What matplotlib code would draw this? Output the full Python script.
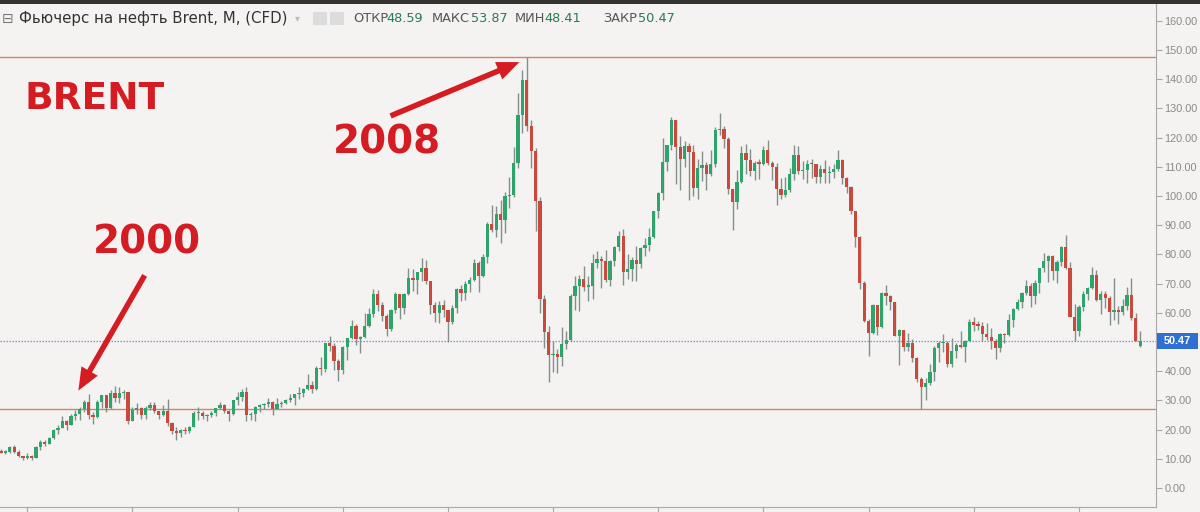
import matplotlib
matplotlib.use("Agg")
import matplotlib.pyplot as plt
from matplotlib.patches import Rectangle, FancyArrowPatch
from matplotlib.transforms import blended_transform_factory

# ---------------- data: monthly Brent candles, Jul 1998 .. Mar 2020 ----------------
first_month = "1998-07"
opens = [
    12.6, 12.1, 12.2, 14.0, 12.4, 11.0,                                          # 1998 (Jul-Dec)
    10.2, 11.1, 10.4, 13.9, 15.8, 15.0, 17.0, 19.9, 20.5, 22.9, 21.7, 24.7,      # 1999
    25.3, 27.2, 29.5, 25.0, 24.2, 29.4, 31.8, 27.3, 32.7, 30.8, 32.5, 32.9,      # 2000
    23.0, 26.6, 27.5, 24.9, 27.4, 28.3, 26.2, 25.0, 26.3, 22.2, 19.6, 18.8,      # 2001
    19.9, 19.6, 20.9, 25.6, 25.7, 24.6, 24.9, 25.8, 27.3, 28.5, 26.2, 25.2,      # 2002
    30.0, 31.3, 32.8, 25.0, 25.3, 27.6, 28.3, 28.7, 29.6, 27.1, 28.8, 29.2,      # 2003
    30.2, 30.9, 32.3, 32.6, 33.8, 35.2, 34.0, 41.2, 40.6, 49.6, 48.5, 43.5,      # 2004
    40.5, 48.2, 51.5, 55.4, 51.0, 51.8, 55.6, 59.5, 66.5, 62.8, 58.9, 54.3,      # 2005
    61.0, 66.3, 61.5, 66.3, 72.0, 71.4, 73.9, 75.2, 71.0, 62.5, 59.8, 62.8,      # 2006
    60.9, 57.0, 61.8, 68.1, 66.9, 69.9, 71.4, 77.1, 72.7, 79.2, 90.5, 88.3,      # 2007
    93.9, 91.8, 100.1, 100.3, 111.4, 127.8, 139.8, 124.1, 115.5, 98.2, 64.6, 53.5,  # 2008
    45.6, 45.9, 44.8, 49.2, 50.6, 65.9, 69.3, 71.7, 69.0, 69.1, 77.0, 78.5,      # 2009
    77.9, 71.2, 77.6, 82.7, 86.2, 74.0, 75.0, 78.0, 76.7, 82.3, 83.2, 85.9,      # 2010
    94.8, 101.0, 111.8, 117.4, 125.9, 116.7, 112.5, 117.0, 114.9, 102.8, 109.6, 110.5,  # 2011
    107.4, 111.0, 122.7, 122.9, 119.5, 102.4, 97.8, 104.9, 114.6, 112.4, 108.7, 111.2,  # 2012
    111.1, 115.6, 111.4, 110.0, 102.4, 100.4, 102.2, 107.7, 114.0, 108.4, 108.8, 110.9,  # 2013
    110.8, 106.4, 109.1, 107.8, 108.1, 109.4, 112.4, 106.0, 103.2, 94.7, 85.9, 70.2,    # 2014
    57.3, 53.0, 62.6, 55.1, 66.8, 65.6, 63.6, 52.2, 54.2, 48.4, 49.6, 44.6,      # 2015
    37.3, 34.7, 36.0, 39.6, 48.1, 49.7, 49.7, 42.5, 47.0, 49.1, 48.3, 50.5,      # 2016
    56.8, 55.7, 55.6, 52.8, 51.7, 50.3, 47.9, 52.7, 52.4, 57.5, 61.4, 63.6,      # 2017
    66.9, 69.1, 65.8, 70.3, 75.2, 77.6, 79.4, 74.3, 77.4, 82.7, 75.5, 58.7,      # 2018
    53.8, 61.9, 66.3, 68.4, 72.8, 64.5, 66.6, 65.2, 60.4, 60.8, 60.2, 62.4,      # 2019
    66.0, 58.2, 48.59,                                                           # 2020
]
highs = [
    13.3, 12.9, 14.4, 14.6, 13.0, 11.1,
    12.0, 11.4, 14.3, 16.5, 16.5, 17.4, 20.3, 21.4, 24.6, 23.3, 25.3, 26.6,
    27.8, 30.2, 32.1, 26.0, 30.2, 32.0, 31.9, 33.4, 35.0, 34.6, 33.5, 33.0,
    27.8, 29.0, 27.6, 28.0, 29.5, 29.3, 26.5, 28.3, 30.4, 22.7, 21.0, 20.1,
    21.0, 21.1, 26.2, 27.7, 26.3, 25.2, 26.3, 27.4, 29.3, 28.7, 26.6, 30.3,
    32.8, 34.0, 34.6, 26.0, 28.0, 28.6, 29.2, 30.9, 29.9, 30.9, 29.7, 30.6,
    32.2, 32.3, 34.7, 34.2, 39.0, 36.8, 41.8, 45.0, 49.6, 52.0, 49.8, 44.3,
    48.5, 51.5, 57.6, 56.2, 52.0, 59.9, 61.5, 68.3, 67.8, 63.8, 59.6, 61.2,
    67.0, 66.5, 66.8, 75.2, 74.9, 74.0, 78.6, 78.0, 71.0, 63.6, 63.9, 64.5,
    61.0, 62.5, 68.4, 69.5, 71.0, 72.1, 78.4, 77.6, 80.0, 91.0, 97.0, 96.5,
    98.5, 101.3, 106.5, 116.8, 135.1, 143.0, 147.5, 126.0, 116.5, 99.7, 66.2, 55.5,
    50.4, 47.5, 55.2, 53.6, 66.3, 72.5, 73.0, 76.0, 72.5, 80.0, 81.0, 79.6,
    81.4, 78.2, 82.8, 88.0, 88.8, 80.0, 79.0, 83.0, 82.5, 85.7, 89.0, 95.0,
    101.5, 119.8, 117.6, 127.0, 126.0, 120.5, 119.0, 118.0, 117.5, 112.8, 115.3, 111.5,
    115.8, 123.7, 128.4, 124.1, 120.2, 102.4, 109.0, 117.0, 117.9, 116.0, 112.0, 112.6,
    117.0, 119.2, 112.0, 111.2, 106.0, 106.5, 109.5, 117.3, 117.0, 112.0, 112.3, 112.6,
    110.8, 110.5, 112.4, 110.2, 111.0, 115.7, 112.6, 106.6, 103.4, 94.8, 86.3, 70.8,
    58.0, 63.0, 62.6, 67.0, 69.6, 66.0, 63.6, 54.3, 54.2, 53.0, 51.0, 44.8,
    38.0, 37.5, 42.5, 48.5, 50.5, 52.9, 50.5, 51.2, 49.8, 53.7, 50.6, 57.9,
    58.4, 57.2, 56.7, 56.5, 54.7, 50.9, 53.0, 53.2, 59.5, 61.5, 64.7, 67.0,
    71.3, 70.3, 71.3, 75.5, 80.5, 79.9, 79.8, 78.2, 82.9, 86.7, 77.3, 63.1,
    62.5, 67.5, 69.0, 75.6, 74.5, 67.5, 67.5, 65.9, 71.9, 62.3, 64.6, 68.9,
    71.8, 59.9, 53.87,
]
lows = [
    11.9, 11.6, 12.0, 12.0, 10.6, 9.5,
    10.0, 9.6, 10.3, 13.0, 14.3, 14.9, 16.9, 18.6, 20.4, 19.9, 21.5, 23.3,
    23.4, 26.0, 23.6, 21.9, 24.0, 27.5, 26.1, 27.1, 29.3, 29.2, 30.5, 21.9,
    22.8, 25.4, 23.6, 23.5, 26.8, 25.6, 23.5, 24.6, 21.3, 18.6, 16.5, 17.4,
    18.4, 18.9, 20.8, 23.2, 23.5, 23.0, 24.2, 24.8, 26.9, 25.7, 22.9, 24.9,
    28.5, 29.9, 23.1, 23.2, 23.0, 25.9, 27.1, 27.9, 25.0, 27.0, 27.7, 28.9,
    29.6, 28.5, 30.5, 31.2, 33.6, 32.5, 33.7, 38.6, 39.6, 47.0, 40.4, 36.8,
    39.2, 43.8, 51.0, 48.8, 46.3, 51.2, 55.0, 58.5, 60.5, 57.2, 52.0, 53.9,
    60.0, 58.0, 59.5, 66.2, 67.6, 66.5, 71.0, 70.0, 59.5, 56.8, 56.5, 58.4,
    50.0, 56.3, 59.8, 64.0, 64.5, 67.0, 71.0, 67.0, 72.1, 77.2, 87.5, 86.0,
    84.0, 87.2, 96.0, 99.5, 109.5, 121.5, 122.2, 109.5, 88.0, 60.0, 47.8, 36.2,
    39.8, 39.4, 41.7, 47.5, 50.3, 61.0, 60.5, 67.5, 64.0, 64.7, 75.3, 68.6,
    70.6, 69.2, 76.0, 81.0, 69.6, 71.5, 71.0, 71.0, 75.4, 79.6, 81.0, 85.6,
    92.5, 98.5, 108.6, 115.6, 104.0, 102.2, 110.0, 98.7, 100.0, 99.0, 105.0, 102.2,
    106.8, 110.0, 121.0, 116.6, 100.6, 88.5, 95.4, 104.5, 107.5, 106.8, 105.6, 105.7,
    110.5, 110.5, 105.5, 96.8, 99.0, 99.5, 101.5, 105.5, 107.6, 105.8, 104.6, 106.3,
    104.6, 104.5, 104.6, 104.5, 106.0, 108.5, 104.0, 101.0, 94.0, 82.6, 68.0, 56.9,
    45.2, 52.6, 52.5, 54.7, 62.5, 60.9, 52.2, 42.2, 46.8, 46.8, 43.2, 36.2,
    27.1, 30.0, 35.4, 36.5, 43.0, 46.6, 41.5, 41.5, 44.6, 48.0, 43.1, 50.5,
    53.6, 54.1, 50.3, 50.6, 47.6, 44.3, 46.7, 49.6, 51.9, 55.0, 60.8, 61.5,
    66.1, 61.9, 62.9, 66.8, 74.0, 70.7, 71.3, 70.3, 76.0, 75.1, 58.4, 50.2,
    52.1, 60.6, 64.4, 68.3, 64.0, 59.5, 61.5, 55.9, 57.7, 56.2, 59.3, 60.8,
    57.7, 50.2, 48.41,
]
closes = [
    12.1, 12.2, 14.0, 12.4, 11.0, 10.2,
    11.1, 10.4, 13.9, 15.8, 15.0, 17.0, 19.9, 20.5, 22.9, 21.7, 24.7, 25.3,
    27.2, 29.5, 25.0, 24.2, 29.4, 31.8, 27.3, 32.7, 30.8, 32.5, 32.9, 23.0,
    26.6, 27.5, 24.9, 27.4, 28.3, 26.2, 25.0, 26.3, 22.2, 19.6, 18.8, 19.9,
    19.6, 20.9, 25.6, 25.7, 24.6, 24.9, 25.8, 27.3, 28.5, 26.2, 25.2, 30.0,
    31.3, 32.8, 25.0, 25.3, 27.6, 28.3, 28.7, 29.6, 27.1, 28.8, 29.2, 30.2,
    30.9, 32.3, 32.6, 33.8, 35.2, 34.0, 41.2, 40.6, 49.6, 48.5, 43.5, 40.5,
    48.2, 51.5, 55.4, 51.0, 51.8, 55.6, 59.5, 66.5, 62.8, 58.9, 54.3, 61.0,
    66.3, 61.5, 66.3, 72.0, 71.4, 73.9, 75.2, 71.0, 62.5, 59.8, 62.8, 60.9,
    57.0, 61.8, 68.1, 66.9, 69.9, 71.4, 77.1, 72.7, 79.2, 90.5, 88.3, 93.9,
    91.8, 100.1, 100.3, 111.4, 127.8, 139.8, 124.1, 115.5, 98.2, 64.6, 53.5, 45.6,
    45.9, 44.8, 49.2, 50.6, 65.9, 69.3, 71.7, 69.0, 69.1, 77.0, 78.5, 77.9,
    71.2, 77.6, 82.7, 86.2, 74.0, 75.0, 78.0, 76.7, 82.3, 83.2, 85.9, 94.8,
    101.0, 111.8, 117.4, 125.9, 116.7, 112.5, 117.0, 114.9, 102.8, 109.6, 110.5, 107.4,
    111.0, 122.7, 122.9, 119.5, 102.4, 97.8, 104.9, 114.6, 112.4, 108.7, 111.2, 111.1,
    115.6, 111.4, 110.0, 102.4, 100.4, 102.2, 107.7, 114.0, 108.4, 108.8, 110.9, 110.8,
    106.4, 109.1, 107.8, 108.1, 109.4, 112.4, 106.0, 103.2, 94.7, 85.9, 70.2, 57.3,
    53.0, 62.6, 55.1, 66.8, 65.6, 63.6, 52.2, 54.2, 48.4, 49.6, 44.6, 37.3,
    34.7, 36.0, 39.6, 48.1, 49.7, 49.7, 42.5, 47.0, 49.1, 48.3, 50.5, 56.8,
    55.7, 55.6, 52.8, 51.7, 50.3, 47.9, 52.7, 52.4, 57.5, 61.4, 63.6, 66.9,
    69.1, 65.8, 70.3, 75.2, 77.6, 79.4, 74.3, 77.4, 82.7, 75.5, 58.7, 53.8,
    61.9, 66.3, 68.4, 72.8, 64.5, 66.6, 65.2, 60.4, 60.8, 60.2, 62.4, 66.0,
    58.2, 50.5, 50.47,
]

price_ticks = [0, 10, 20, 30, 40, 60, 70, 80, 90, 100, 110, 120, 130, 140, 150, 160]
last_price = 50.47
high_level = 147.5
low_level = 26.9
x_tick_months = [6, 30, 54, 78, 102, 126, 150, 174, 198, 222, 246]   # January of odd years

title_text = "Фьючерс на нефть Brent, M, (CFD)"
ohlc_labels = ["ОТКР", "МАКС", "МИН", "ЗАКР"]
ohlc_values = ["48.59", "53.87", "48.41", "50.47"]
big_label = "BRENT"
year_labels = ["2000", "2008"]

# ---------------- style ----------------
BG = "#f4f3f1"
UP = "#2ea36b"
DOWN = "#c9493c"
WICK = "#83908a"
ACCENT = "#d41c22"
W, H = 1200, 512

fig = plt.figure(figsize=(12, 5.12), dpi=100, facecolor=BG)
ax = fig.add_axes([0, 5.5 / H, 1156 / W, (506.5 - 4) / H])
ax.set_facecolor(BG)

xs = list(range(len(closes)))
for x, o, h, l, c in zip(xs, opens, highs, lows, closes):
    col = UP if c >= o else DOWN
    ax.vlines(x, l, h, color=WICK, lw=1.0, zorder=2)
    body = max(abs(c - o), 0.4)
    ax.bar(x, body, bottom=min(o, c), width=0.74, color=col, edgecolor="none", zorder=3)

ax.axhline(high_level, color="#d9826a", lw=1.0, zorder=1)
ax.axhline(low_level, color="#d9826a", lw=1.0, zorder=1)
ax.axhline(last_price, color="#7b93d6", lw=0.9, ls=(0, (1.2, 1.2)), zorder=1)

ax.set_xlim(-0.23, 263.6)
ax.set_ylim(-6.34, 165.75)

for s in ["top", "left"]:
    ax.spines[s].set_visible(False)
ax.spines["bottom"].set_color("#a8a8a8")
ax.spines["right"].set_color("#a8a8a8")
ax.yaxis.tick_right()
ax.set_yticks(price_ticks)
ax.set_yticklabels([f"{v:.2f}" for v in price_ticks], fontsize=7.8,
                   color="#8a8a8a", family="Liberation Sans")
ax.tick_params(axis="y", length=4, width=0.8, color="#a8a8a8", pad=2)
ax.set_xticks(x_tick_months)
ax.set_xticklabels([])
ax.tick_params(axis="x", length=6, width=0.8, color="#a8a8a8")

# current price label on the price axis
tr = blended_transform_factory(fig.transFigure, ax.transData)
ax.add_patch(Rectangle((1157 / W, last_price - 2.75), 41 / W, 5.5, transform=tr,
                       facecolor="#2f6fd3", edgecolor="none", clip_on=False, zorder=5))
ax.text(1177.5 / W, last_price, f"{last_price:.2f}", transform=tr, ha="center",
        va="center", color="white", fontsize=7.8, family="Liberation Sans",
        fontweight="bold", zorder=6, clip_on=False)

# top dark strip (photo edge)
fig.add_artist(Rectangle((0, 1 - 3.5 / H), 1, 3.5 / H, transform=fig.transFigure,
                         facecolor="#34332e", edgecolor="none"))


def fx(px):
    return px / W


def fy(py):
    return 1 - py / H


# header
hy = fy(18.5)
fig.text(fx(2), hy, "⊟", fontsize=10, color="#777777", va="center", family="DejaVu Sans")
fig.text(fx(19), hy, title_text, fontsize=10.8, color="#333333", va="center", family="DejaVu Sans")
fig.text(fx(295), hy, "▾", fontsize=7, color="#bbbbbb", va="center", family="DejaVu Sans")
for x0 in (313, 330):
    fig.add_artist(Rectangle((fx(x0), fy(25)), 14 / W, 13 / H, transform=fig.transFigure,
                             facecolor="#dcdcdc", edgecolor="none"))
lab_x = [353, 432, 515, 603]
val_x = [386, 471, 544, 638]
for lab, val, lx, vx in zip(ohlc_labels, ohlc_values, lab_x, val_x):
    fig.text(fx(lx), hy, lab, fontsize=9.3, color="#555555", va="center", family="DejaVu Sans")
    fig.text(fx(vx), hy, val, fontsize=9.3, color="#2a7a55", va="center", family="DejaVu Sans")

# annotations
fig.text(fx(25), fy(99), big_label, fontsize=27, fontweight="bold", color=ACCENT,
         va="center", ha="left", family="DejaVu Sans")
fig.text(fx(93), fy(243), year_labels[0], fontsize=28, fontweight="bold", color=ACCENT,
         va="center", ha="left", family="DejaVu Sans")
fig.text(fx(333), fy(143), year_labels[1], fontsize=28, fontweight="bold", color=ACCENT,
         va="center", ha="left", family="DejaVu Sans")

for (xa, ya), (xb, yb) in [((146, 273), (77, 393)), ((388, 117), (522, 61))]:
    arr = FancyArrowPatch((fx(xa), fy(ya)), (fx(xb), fy(yb)), transform=fig.transFigure,
                          arrowstyle="simple,head_length=0.9,head_width=0.75,tail_width=0.22",
                          mutation_scale=18, color=ACCENT, lw=0)
    fig.add_artist(arr)

fig.savefig("out.png", dpi=100, facecolor=BG)
